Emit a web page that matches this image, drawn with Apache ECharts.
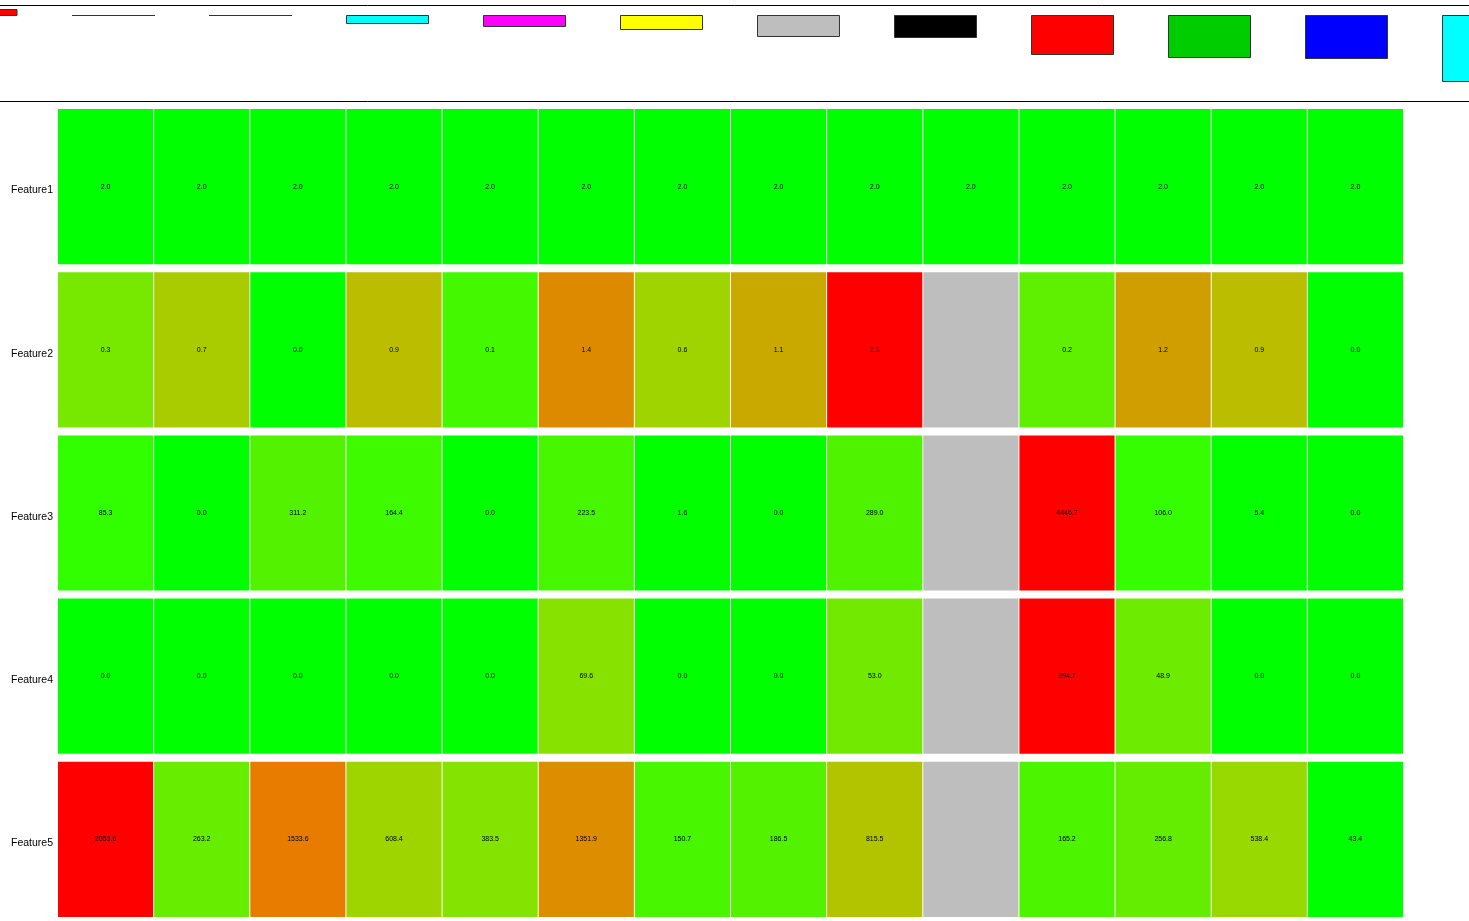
<!DOCTYPE html>
<html>
<head>
<meta charset="utf-8">
<script src="https://cdn.jsdelivr.net/npm/echarts@6/dist/echarts.min.js"></script>
<style>html,body{margin:0;padding:0;background:#fff}#main{width:1469px;height:921px}</style>
</head>
<body>
<div id="main"></div>
<script>
var features = ['Feature1', 'Feature2', 'Feature3', 'Feature4', 'Feature5'];
var columns = ['C1', 'C2', 'C3', 'C4', 'C5', 'C6', 'C7', 'C8', 'C9', 'C10', 'C11', 'C12', 'C13', 'C14'];
var feature1 = [2.0, 2.0, 2.0, 2.0, 2.0, 2.0, 2.0, 2.0, 2.0, 2.0, 2.0, 2.0, 2.0, 2.0];
var feature2 = [0.3, 0.7, 0.0, 0.9, 0.1, 1.4, 0.6, 1.1, 2.1, null, 0.2, 1.2, 0.9, 0.0];
var feature3 = [85.3, 0.0, 311.2, 164.4, 0.0, 223.5, 1.6, 0.0, 289.0, null, 4446.7, 106.0, 5.4, 0.0];
var feature4 = [0.0, 0.0, 0.0, 0.0, 0.0, 69.6, 0.0, 0.0, 53.0, null, 394.7, 48.9, 0.0, 0.0];
var feature5 = [2053.6, 263.2, 1533.6, 608.4, 383.5, 1351.9, 150.7, 186.5, 815.5, null, 165.2, 256.8, 538.4, 43.4];
var rows = [feature1, feature2, feature3, feature4, feature5];

// legend strip swatches across the top: fill colour, height
var legendFill = ['#ff0000', 'none', 'none', '#00ffff', '#ff00ff', '#ffff00', '#bebebe', '#000000', '#ff0000', '#00cd00', '#0000ff', '#00ffff'];
var legendHeight = [6, 0, 0, 8, 11, 14, 21, 22, 39, 42, 43, 66];

// green -> red ramp (per-row scaling)
var stops = [[0, [0, 255, 0]], [0.02, [51, 255, 0]], [0.07, [82, 242, 0]], [0.13, [112, 234, 0]],
  [0.18, [138, 225, 0]], [0.3, [162, 210, 0]], [0.45, [190, 185, 0]], [0.66, [221, 139, 0]],
  [0.75, [232, 122, 0]], [1, [255, 0, 0]]];
function ramp(t) {
  for (var i = 1; i < stops.length; i++) {
    if (t <= stops[i][0]) {
      var a = stops[i - 1], b = stops[i], f = (t - a[0]) / (b[0] - a[0]);
      var c = a[1].map(function (v, k) { return Math.round(v + (b[1][k] - v) * f); });
      return 'rgb(' + c.join(',') + ')';
    }
  }
  return 'rgb(255,0,0)';
}

var data = [], labels = [];
rows.forEach(function (row, r) {
  var vals = row.filter(function (v) { return v !== null; });
  var mn = Math.min.apply(null, vals), mx = Math.max.apply(null, vals);
  row.forEach(function (v, c) {
    var color = v === null ? '#bebebe' : ramp(mx > mn ? (v - mn) / (mx - mn) : 0);
    data.push({ value: [c, r], itemStyle: { color: color } });
    labels.push(v === null ? '' : v.toFixed(1));
  });
});

var graphics = [
  { type: 'line', shape: { x1: 0, y1: 5.5, x2: 1469, y2: 5.5 }, style: { stroke: '#000', lineWidth: 1 } },
  { type: 'line', shape: { x1: 0, y1: 101.5, x2: 1469, y2: 101.5 }, style: { stroke: '#000', lineWidth: 1 } }
];
legendFill.forEach(function (f, i) {
  if (i === 0) {
    graphics.push({ type: 'rect', shape: { x: -1, y: 9.5, width: 18, height: legendHeight[i] }, style: { fill: f, stroke: '#333' } });
  } else if (f === 'none') {
    graphics.push({ type: 'line', shape: { x1: 72 + (i - 1) * 137, y1: 15.5, x2: 155 + (i - 1) * 137, y2: 15.5 }, style: { stroke: '#333' } });
  } else {
    graphics.push({ type: 'rect', shape: { x: 72.5 + (i - 1) * 137, y: 15.5, width: 82, height: legendHeight[i] }, style: { fill: f, stroke: '#333', lineWidth: 1 } });
  }
});

var chart = echarts.init(document.getElementById('main'));
chart.setOption({
  animation: false,
  graphic: graphics,
  grid: { left: 58, width: 1346, top: 109, height: 816, outerBoundsMode: 'none', containLabel: false },
  xAxis: { type: 'category', data: columns, show: false },
  yAxis: {
    type: 'category', data: features, inverse: true,
    axisLine: { show: false }, axisTick: { show: false },
    axisLabel: { color: '#000', fontSize: 10.5, fontFamily: 'Liberation Sans', margin: 5 }
  },
  series: [{
    type: 'custom',
    data: data,
    encode: { x: 0, y: 1 },
    renderItem: function (params, api) {
      var p = api.coord([api.value(0), api.value(1)]);
      var s = api.size([1, 1]);
      var x = p[0] - s[0] / 2, y = p[1] - s[1] / 2;
      return {
        type: 'group',
        children: [{
          type: 'rect',
          shape: { x: x, y: y, width: s[0] - 1, height: s[1] - 8 },
          style: { fill: api.visual('color') }
        }, {
          type: 'text',
          x: x + (s[0] - 1) / 2, y: y + (s[1] - 8) / 2,
          style: {
            text: labels[params.dataIndex], fontSize: 7, fill: '#000', fontFamily: 'Liberation Sans',
            align: 'center', verticalAlign: 'middle'
          }
        }]
      };
    }
  }]
});
</script>
</body>
</html>
